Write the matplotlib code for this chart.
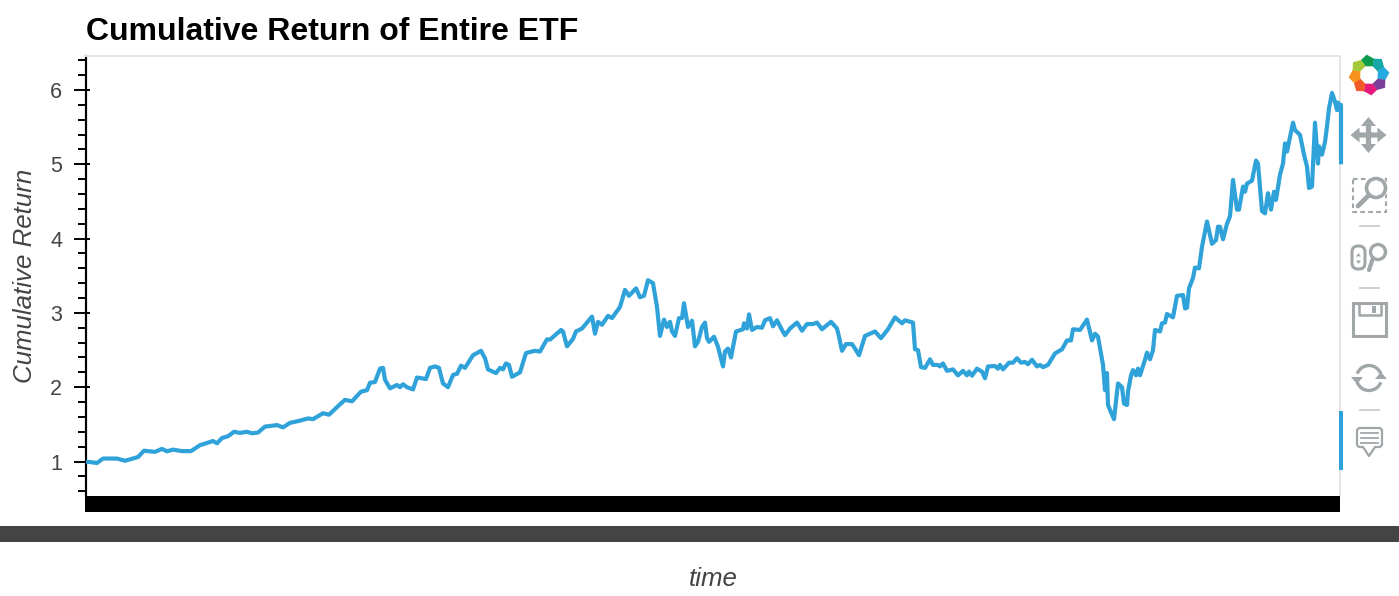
import numpy as np
import matplotlib
matplotlib.use('Agg')
import matplotlib.pyplot as plt
from matplotlib.patches import Rectangle, Polygon, Circle, Arc, FancyBboxPatch

# values (time axis has no readable labels, so t is just a running index)
t = [86, 97, 103, 117, 125, 138, 144, 155, 162, 167, 173, 182, 191, 200, 213, 217, 222, 228, 234, 240,
     247, 252, 258, 265, 277, 283, 290, 300, 308, 313, 323, 329, 340, 345, 352, 361, 367, 370, 375, 380,
     383, 385, 390, 397, 400, 403, 407, 413, 417, 422, 426, 430, 435, 439, 443, 448, 453, 457, 461, 465,
     473, 481, 485, 488, 496, 500, 503, 506, 509, 512, 520, 526, 535, 540, 547, 550, 561, 563, 567, 573,
     576, 582, 592, 595, 598, 602, 608, 612, 620, 625, 629, 636, 640, 644, 648, 653, 657, 660, 664, 667,
     670, 672, 675, 679, 682, 684, 688, 692, 695, 698, 702, 705, 707, 709, 714, 718, 723, 725, 728, 731,
     736, 743, 744, 747, 749, 752, 757, 762, 765, 770, 773, 777, 782, 785, 790, 797, 802, 807, 813, 817,
     822, 831, 837, 839, 842, 846, 852, 855, 859, 865, 875, 881, 888, 895, 902, 905, 913, 915, 918, 921,
     925, 930, 933, 938, 940, 943, 947, 953, 958, 963, 967, 969, 972, 977, 982, 985, 988, 995, 998, 1000,
     1003, 1009, 1013, 1017, 1021, 1025, 1028, 1032, 1037, 1040, 1043, 1048, 1055, 1062, 1067, 1071, 1073,
     1080, 1087, 1092, 1095, 1098, 1102, 1103, 1105, 1107, 1108, 1112, 1114, 1118, 1122, 1124, 1127, 1128,
     1131, 1133, 1136, 1138, 1140, 1145, 1147, 1150, 1153, 1155, 1160, 1162, 1165, 1167, 1173, 1177, 1183,
     1185, 1187, 1189, 1193, 1195, 1199, 1202, 1207, 1212, 1216, 1218, 1220, 1223, 1227, 1230, 1233, 1237,
     1239, 1243, 1245, 1247, 1252, 1256, 1258, 1262, 1265, 1268, 1271, 1274, 1276, 1280, 1283, 1285, 1287,
     1293, 1295, 1300, 1304, 1307, 1309, 1312, 1315, 1318, 1319, 1322, 1325, 1327, 1329, 1332, 1335, 1337,
     1338, 1340, 1341, 1341]
cum_ret = [1.00, 0.98, 1.04, 1.04, 1.01, 1.06, 1.145, 1.13, 1.17, 1.137, 1.16, 1.14, 1.14, 1.22, 1.276, 1.245, 1.316, 1.34, 1.40, 1.385,
           1.40, 1.38, 1.39, 1.47, 1.49, 1.46, 1.52, 1.55, 1.58, 1.57, 1.65, 1.63, 1.77, 1.83, 1.81, 1.94, 1.96, 2.06, 2.07, 2.25,
           2.26, 2.10, 1.985, 2.03, 2.00, 2.04, 2.00, 1.97, 2.13, 2.12, 2.11, 2.26, 2.28, 2.26, 2.05, 2.00, 2.165, 2.18, 2.29, 2.26,
           2.43, 2.49, 2.39, 2.24, 2.19, 2.26, 2.24, 2.32, 2.30, 2.14, 2.20, 2.46, 2.49, 2.48, 2.645, 2.64, 2.77, 2.75, 2.55, 2.65,
           2.75, 2.79, 2.95, 2.72, 2.88, 2.84, 2.96, 2.93, 3.08, 3.31, 3.23, 3.33, 3.21, 3.23, 3.44, 3.40, 3.08, 2.69, 2.91, 2.81,
           2.88, 2.75, 2.69, 2.93, 2.93, 3.13, 2.81, 2.895, 2.55, 2.61, 2.81, 2.87, 2.66, 2.61, 2.68, 2.545, 2.28, 2.48, 2.52, 2.40,
           2.75, 2.78, 2.86, 2.79, 2.98, 2.77, 2.81, 2.80, 2.90, 2.93, 2.82, 2.90, 2.77, 2.70, 2.79, 2.87, 2.76, 2.85, 2.85, 2.87,
           2.78, 2.88, 2.79, 2.68, 2.49, 2.58, 2.58, 2.52, 2.43, 2.69, 2.75, 2.66, 2.78, 2.94, 2.86, 2.90, 2.87, 2.51, 2.50, 2.27,
           2.26, 2.375, 2.30, 2.30, 2.28, 2.32, 2.22, 2.24, 2.16, 2.22, 2.16, 2.21, 2.155, 2.25, 2.21, 2.12, 2.28, 2.285, 2.25, 2.30,
           2.24, 2.33, 2.33, 2.39, 2.33, 2.34, 2.31, 2.37, 2.28, 2.30, 2.27, 2.30, 2.455, 2.51, 2.63, 2.63, 2.78,
           2.77, 2.91, 2.63, 2.72, 2.68, 2.37, 2.30, 1.96, 2.19, 1.76, 1.63, 1.57, 2.05, 2.00, 1.78, 1.76, 1.94,
           2.16, 2.23, 2.16, 2.25, 2.16, 2.37, 2.465, 2.375, 2.50, 2.77, 2.75, 2.86, 2.87, 2.985, 2.94, 3.23, 3.24,
           3.06, 3.07, 3.33, 3.47, 3.61, 3.60, 3.89, 4.23, 3.93, 3.98, 4.16, 4.16, 3.99, 4.20, 4.30, 4.79, 4.39,
           4.39, 4.70, 4.63, 4.74, 4.78, 5.05, 5.01, 4.37, 4.34, 4.61, 4.39, 4.63, 4.52, 4.86, 5.01, 5.28, 5.17,
           5.56, 5.46, 5.395, 5.13, 4.97, 4.68, 4.70, 5.56, 5.01, 5.24, 5.13, 5.30, 5.51, 5.75, 5.96, 5.84, 5.73,
           5.83, 5.73, 5.80, 5.00]
tail_ret = [0.89, 1.68]
y_ticks = [1, 2, 3, 4, 5, 6]

W, H = 1399, 596
BLUE = '#30a2da'
ICON = '#a1a6a9'
plt.rcParams['font.family'] = ['Liberation Sans', 'DejaVu Sans']

fig = plt.figure(figsize=(W / 100, H / 100), dpi=100)
ax = fig.add_axes([86 / W, 1 - 496 / H, (1340 - 86) / W, (496 - 56) / H])

ax.plot(t, cum_ret, color=BLUE, lw=3.0, solid_capstyle='butt', solid_joinstyle='round', clip_on=False, zorder=4)
ax.plot([t[-1], t[-1]], tail_ret, color=BLUE, lw=2.9, solid_capstyle='butt', clip_on=False, zorder=4)

ax.set_xlim(86, 1340)
ax.set_ylim(0.536, 6.457)
ax.set_xticks([])
ax.set_yticks(y_ticks)
ax.set_yticks(np.arange(0.6, 6.41, 0.2), minor=True)
ax.tick_params(axis='y', which='major', direction='out', length=8.6, width=1.4, color='black',
               labelsize=15.5, labelcolor='#444444', pad=8.6)
ax.tick_params(axis='y', which='minor', direction='out', length=5.8, width=1.4, color='black')
for lab in ax.get_yticklabels():
    lab.set_verticalalignment('center_baseline')
# bokeh major ticks also poke a little inside the frame
sec = ax.secondary_yaxis('left')
sec.set_yticks(y_ticks)
sec.tick_params(axis='y', direction='in', length=3, width=1.4, color='black', labelleft=False)
sec.spines['left'].set_linewidth(1.5)
for s in ['top', 'right']:
    ax.spines[s].set_color('#e5e5e5')
    ax.spines[s].set_linewidth(1.4)
ax.spines['left'].set_color('black')
ax.spines['left'].set_linewidth(1.5)
ax.spines['bottom'].set_visible(False)

fig.text(86 / W, 1 - 32 / H, 'Cumulative Return of Entire ETF', fontsize=23, fontweight='bold',
         color='black', ha='left', va='center')
fig.text(25 / W, 1 - 276 / H, 'Cumulative Return', fontsize=18.6, style='italic', color='#444444',
         rotation=90, ha='center', va='center')
fig.text(713 / W, 1 - 579 / H, 'time', fontsize=18.6, style='italic', color='#444444', ha='center', va='center')

# overlay in pixel coords for the bokeh bits: black tick band, scrollbar, toolbar
ov = fig.add_axes([0, 0, 1, 1], zorder=5)
ov.set_xlim(0, W)
ov.set_ylim(H, 0)
ov.axis('off')
ov.patch.set_alpha(0)
ov.add_patch(Rectangle((85, 496), 1255, 16, color='black', lw=0))
ov.add_patch(Rectangle((0, 526), W, 16, color='#444444', lw=0))

# logo, a small pinwheel
logo_cols = ['#0d9b4d', '#17a7a8', '#27aae1', '#7a3f98', '#e6187e', '#f15a29', '#f7941e', '#a3c93a']
for i, c in enumerate(logo_cols):
    a = np.radians(-112.5 + 45 * i)
    pts = []
    for r, da in [(9.5, 0), (17, -6), (20.5, 16), (17, 40), (9.5, 47)]:
        b = a + np.radians(da)
        pts.append((1369 + r * np.cos(b), 75 + r * np.sin(b)))
    ov.add_patch(Polygon(pts, color=c, lw=0))

# pan
cx, cy = 1368.5, 135
arm, head, tip, hw = 2.6, 9, 18, 7.5
pan = [(cx - arm, cy - arm), (cx - arm, cy - head), (cx - hw, cy - head), (cx, cy - tip), (cx + hw, cy - head),
       (cx + arm, cy - head), (cx + arm, cy - arm), (cx + head, cy - arm), (cx + head, cy - hw), (cx + tip, cy),
       (cx + head, cy + hw), (cx + head, cy + arm), (cx + arm, cy + arm), (cx + arm, cy + head), (cx + hw, cy + head),
       (cx, cy + tip), (cx - hw, cy + head), (cx - arm, cy + head), (cx - arm, cy + arm), (cx - head, cy + arm),
       (cx - head, cy + hw), (cx - tip, cy), (cx - head, cy - hw), (cx - head, cy - arm)]
ov.add_patch(Polygon(pan, color=ICON, lw=0))

# box zoom
ov.add_patch(Rectangle((1352.5, 178.5), 33, 33, fill=False, ec=ICON, lw=1.5, ls=(0, (2.2, 1.6))))
ov.add_patch(Circle((1376, 188), 12, color='white', lw=0))
ov.add_patch(Circle((1376, 188), 9.5, fill=False, ec=ICON, lw=2.6))
ov.plot([1369, 1358], [195, 206], color=ICON, lw=3.4, solid_capstyle='round')

# separators
for sy in [226, 288, 410]:
    ov.plot([1360, 1379], [sy, sy], color='#cccccc', lw=1.3)

# wheel zoom
ov.add_patch(FancyBboxPatch((1356, 250), 5, 15, boxstyle='round,pad=4,rounding_size=6', fill=False, ec=ICON, lw=2.2))
ov.add_patch(Polygon([(1358.5, 253), (1361, 256.5), (1356, 256.5)], color=ICON, lw=0))
ov.add_patch(Polygon([(1358.5, 264), (1361, 260.5), (1356, 260.5)], color=ICON, lw=0))
ov.add_patch(Circle((1378, 252), 7.5, fill=False, ec=ICON, lw=2.4))
ov.plot([1373, 1369], [258, 270], color=ICON, lw=3, solid_capstyle='round')

# save
ov.add_patch(Rectangle((1352.5, 302.5), 33, 33, fill=False, ec=ICON, lw=2.2))
ov.plot([1359, 1359, 1381, 1381], [303, 315, 315, 303], color=ICON, lw=1.8)
ov.add_patch(Rectangle((1372, 306), 4, 7, color=ICON, lw=0))

# reset
ov.add_patch(Arc((1369, 378), 25, 25, theta1=200, theta2=340, ec=ICON, lw=2.4))
ov.add_patch(Arc((1369, 378), 25, 25, theta1=20, theta2=160, ec=ICON, lw=2.4))
ov.add_patch(Polygon([(1351, 377), (1363, 377), (1357, 384)], color=ICON, lw=0))
ov.add_patch(Polygon([(1375, 379), (1387, 379), (1381, 372)], color=ICON, lw=0))

# hover
bubble = [(1357, 430), (1359, 428), (1380, 428), (1382, 430), (1382, 445), (1380, 447), (1375, 447), (1369, 456),
          (1363, 447), (1359, 447), (1357, 445)]
ov.add_patch(Polygon(bubble, closed=True, fill=False, ec=ICON, lw=1.6, joinstyle='round'))
for ly in [433, 438, 443]:
    ov.plot([1361, 1378], [ly, ly], color=ICON, lw=1.3)

ov.set_xlim(0, W)
ov.set_ylim(H, 0)

fig.savefig('out.png', dpi=100, facecolor='white')
